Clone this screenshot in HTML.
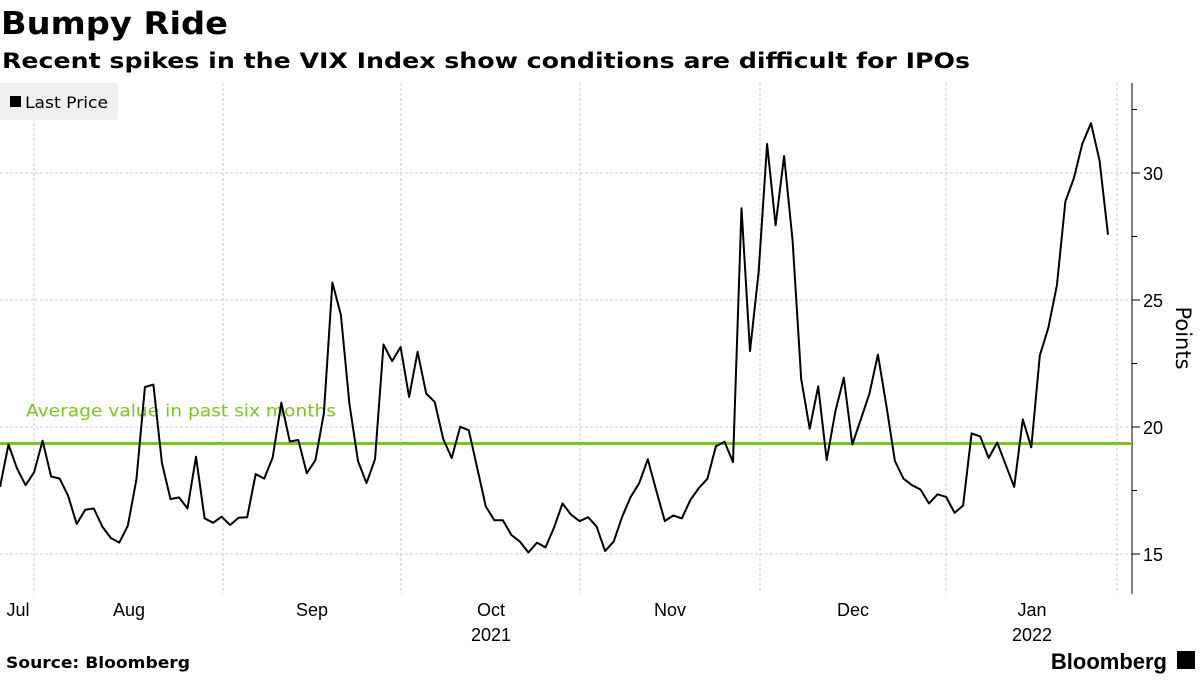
<!DOCTYPE html>
<html><head><meta charset="utf-8"><style>
body{margin:0;background:#fff;width:1200px;height:675px;overflow:hidden;font-family:"Liberation Sans","DejaVu Sans",sans-serif}
.dj{font-family:"DejaVu Sans",sans-serif}
</style></head><body>
<svg width="1200" height="675" xmlns="http://www.w3.org/2000/svg">
<text class="dj" x="1" y="34" font-size="31" font-weight="bold" textLength="227" lengthAdjust="spacingAndGlyphs">Bumpy Ride</text>
<text class="dj" x="2" y="68" font-size="21" font-weight="bold" textLength="968" lengthAdjust="spacingAndGlyphs">Recent spikes in the VIX Index show conditions are difficult for IPOs</text>
<g id="grid"></g>
<g id="axis"></g>
<g id="xaxis"></g>
<line id="avg" x1="0" x2="1132" stroke="#7ac71c" stroke-width="3"/>
<text id="avgLabel" class="dj" x="26" font-size="17" fill="#7ac71c" textLength="310" lengthAdjust="spacingAndGlyphs">Average value in past six months</text>
<path id="line" fill="none" stroke="#000" stroke-width="2" stroke-linejoin="round"/>
<g>
<rect x="0" y="83" width="118" height="37" fill="#f0f0f0" rx="2"/>
<rect x="10" y="96" width="11" height="11" fill="#000"/>
<text class="dj" x="25" y="108" font-size="16" textLength="83" lengthAdjust="spacingAndGlyphs">Last Price</text>
</g>
<text class="dj" transform="translate(1176,338) rotate(90)" font-size="21" text-anchor="middle">Points</text>
<text class="dj" x="6" y="668" font-size="16" font-weight="bold" textLength="184" lengthAdjust="spacingAndGlyphs">Source: Bloomberg</text>
<text x="1167" y="669" font-size="22" font-weight="bold" text-anchor="end">Bloomberg</text>
<rect x="1177" y="651" width="18" height="18" fill="#000"/>
</svg>
<script>
const values=[17.64,19.31,18.37,17.71,18.22,19.46,18.05,17.97,17.28,16.18,16.74,16.79,16.08,15.63,15.45,16.11,17.93,21.57,21.67,18.59,17.16,17.23,16.79,18.83,16.40,16.23,16.47,16.14,16.43,16.45,18.15,17.97,18.80,20.96,19.43,19.49,18.18,18.69,20.55,25.69,24.41,20.92,18.66,17.79,18.73,23.25,22.59,23.15,21.18,22.96,21.32,20.99,19.53,18.78,20.01,19.87,18.37,16.87,16.33,16.33,15.75,15.49,15.06,15.45,15.26,16.04,16.99,16.55,16.29,16.45,16.08,15.12,15.49,16.47,17.25,17.79,18.73,17.49,16.30,16.52,16.40,17.13,17.60,17.96,19.24,19.42,18.62,28.61,22.99,26.09,31.14,27.94,30.67,27.33,21.89,19.93,21.60,18.70,20.60,21.94,19.31,20.30,21.31,22.85,20.84,18.66,17.97,17.71,17.54,16.99,17.35,17.25,16.62,16.91,19.75,19.63,18.78,19.39,18.51,17.64,20.30,19.20,22.81,23.90,25.58,28.88,29.80,31.16,31.96,30.50,27.57];
const average=19.35;
const yTicks=[15,20,25,30];
const yMinor=[17.5,22.5,27.5,32.5];
const monthLabels=["Jul","Aug","Sep","Oct","Nov","Dec","Jan"];
const yearLabels=[["2021",3],["2022",6]];
const NS="http://www.w3.org/2000/svg";
const y=v=>554-(v-15)*25.4;
const x=i=>i*(1108/(values.length-1));
const monthGrid=[34,223,401,580,760,946,1117];
const monthCenter=[18,129,312,491,670,853,1032];
function mk(t,a,p){const e=document.createElementNS(NS,t);for(const k in a)e.setAttribute(k,a[k]);p.appendChild(e);return e;}
const grid=document.getElementById('grid'),ax=document.getElementById('axis'),xa=document.getElementById('xaxis');
yTicks.forEach(v=>{
 const g=mk('line',{x1:0,x2:1132,y1:y(v),y2:y(v),stroke:'#ccc','stroke-dasharray':'3,2'},grid);
 
 
 const t=mk('line',{x1:1132,x2:1140,y1:y(v),y2:y(v),stroke:'#000'},ax);
 
 
 const l=mk('text',{x:1143,y:y(v)+7,'font-size':18},ax);l.textContent=v;
 
 
});
yMinor.forEach(v=>{const t=mk('line',{x1:1132,x2:1137,y1:y(v),y2:y(v),stroke:'#000'},ax);
 
 });
const al=mk('line',{x1:1132,x2:1132,y1:83,y2:594,stroke:'#000'},ax);


monthGrid.forEach(gx=>{const g=mk('line',{x1:gx,x2:gx,y1:83,y2:594,stroke:'#ccc','stroke-dasharray':'3,2'},grid);
 
 });
monthLabels.forEach((m,i)=>{const t=mk('text',{x:monthCenter[i],y:616,'font-size':18,'text-anchor':'middle'},xa);t.textContent=m;
 
 });
yearLabels.forEach(([yr,i])=>{const t=mk('text',{x:monthCenter[i],y:641,'font-size':18,'text-anchor':'middle'},xa);t.textContent=yr;
 
 });
const av=document.getElementById('avg');av.setAttribute('y1',y(average));av.setAttribute('y2',y(average));
document.getElementById('avgLabel').setAttribute('y',y(average)-27);
document.getElementById('line').setAttribute('d',values.map((v,i)=>(i?'L':'M')+x(i).toFixed(1)+','+y(v).toFixed(1)).join(''));
</script>
</body></html>
